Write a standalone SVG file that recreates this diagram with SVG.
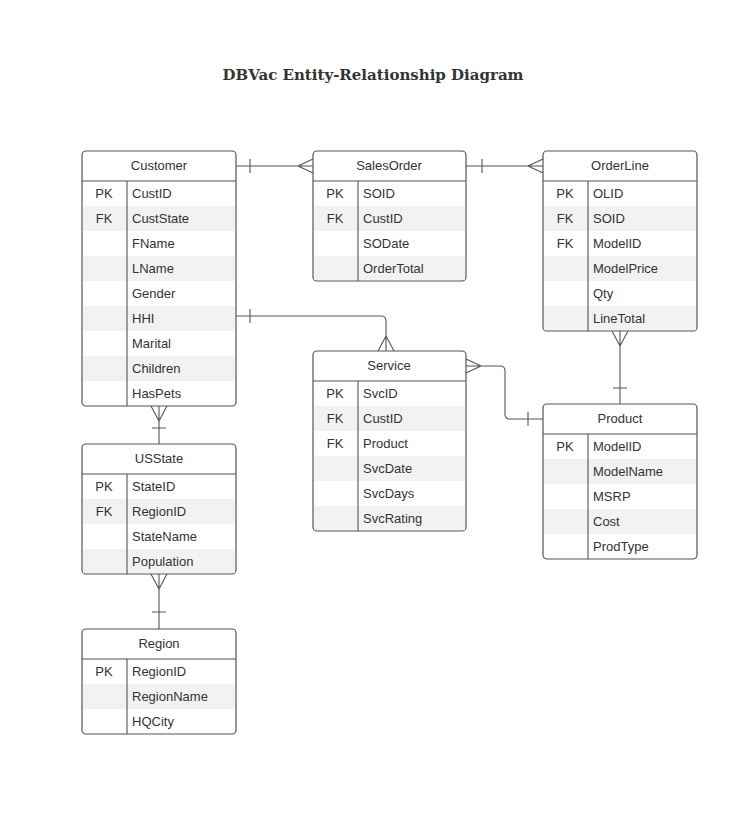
<svg xmlns="http://www.w3.org/2000/svg" width="746" height="834" viewBox="0 0 746 834">
<style>
.box{fill:#fff;stroke:#555;stroke-width:1.2}
.ln{stroke:#555;stroke-width:1.1;fill:none}
.sh{fill:#f2f2f2}
text{font-family:"Liberation Sans",Arial,sans-serif;font-size:13px;fill:#333}
.h{text-anchor:middle}
.k{text-anchor:middle}
</style>
<rect width="746" height="834" fill="#fff"/>
<text x="373" y="80" style="font-family:'DejaVu Serif',serif;font-weight:bold;font-size:15px" text-anchor="middle" fill="#000">DBVac Entity-Relationship Diagram</text>

<g id="Customer">
<rect class="box" x="82" y="151" width="154" height="255" rx="4"/>
<rect class="sh" x="83" y="206" width="152" height="25"/><rect class="sh" x="83" y="256" width="152" height="25"/><rect class="sh" x="83" y="306" width="152" height="25"/><rect class="sh" x="83" y="356" width="152" height="25"/>
<path class="ln" d="M82 181H236M127 181V406"/>
<text class="h" x="159" y="170">Customer</text>
<text class="k" x="104" y="198">PK</text><text x="132" y="198">CustID</text>
<text class="k" x="104" y="223">FK</text><text x="132" y="223">CustState</text>
<text x="132" y="248">FName</text><text x="132" y="273">LName</text><text x="132" y="298">Gender</text>
<text x="132" y="323">HHI</text><text x="132" y="348">Marital</text><text x="132" y="373">Children</text><text x="132" y="398">HasPets</text>
</g>

<g id="SalesOrder">
<rect class="box" x="313" y="151" width="153" height="130" rx="4"/>
<rect class="sh" x="314" y="206" width="151" height="25"/><rect class="sh" x="314" y="256" width="151" height="24"/>
<path class="ln" d="M313 181H466M358 181V281"/>
<text class="h" x="389" y="170">SalesOrder</text>
<text class="k" x="335" y="198">PK</text><text x="363" y="198">SOID</text>
<text class="k" x="335" y="223">FK</text><text x="363" y="223">CustID</text>
<text x="363" y="248">SODate</text><text x="363" y="273">OrderTotal</text>
</g>

<g id="OrderLine">
<rect class="box" x="543" y="151" width="154" height="180" rx="4"/>
<rect class="sh" x="544" y="206" width="152" height="25"/><rect class="sh" x="544" y="256" width="152" height="25"/><rect class="sh" x="544" y="306" width="152" height="24"/>
<path class="ln" d="M543 181H697M588 181V331"/>
<text class="h" x="620" y="170">OrderLine</text>
<text class="k" x="565" y="198">PK</text><text x="593" y="198">OLID</text>
<text class="k" x="565" y="223">FK</text><text x="593" y="223">SOID</text>
<text class="k" x="565" y="248">FK</text><text x="593" y="248">ModelID</text>
<text x="593" y="273">ModelPrice</text><text x="593" y="298">Qty</text><text x="593" y="323">LineTotal</text>
</g>

<g id="Service">
<rect class="box" x="313" y="351" width="153" height="180" rx="4"/>
<rect class="sh" x="314" y="406" width="151" height="25"/><rect class="sh" x="314" y="456" width="151" height="25"/><rect class="sh" x="314" y="506" width="151" height="24"/>
<path class="ln" d="M313 381H466M358 381V531"/>
<text class="h" x="389" y="370">Service</text>
<text class="k" x="335" y="398">PK</text><text x="363" y="398">SvcID</text>
<text class="k" x="335" y="423">FK</text><text x="363" y="423">CustID</text>
<text class="k" x="335" y="448">FK</text><text x="363" y="448">Product</text>
<text x="363" y="473">SvcDate</text><text x="363" y="498">SvcDays</text><text x="363" y="523">SvcRating</text>
</g>

<g id="Product">
<rect class="box" x="543" y="404" width="154" height="155" rx="4"/>
<rect class="sh" x="544" y="459" width="152" height="25"/><rect class="sh" x="544" y="509" width="152" height="25"/>
<path class="ln" d="M543 434H697M588 434V559"/>
<text class="h" x="620" y="423">Product</text>
<text class="k" x="565" y="451">PK</text><text x="593" y="451">ModelID</text>
<text x="593" y="476">ModelName</text><text x="593" y="501">MSRP</text><text x="593" y="526">Cost</text><text x="593" y="551">ProdType</text>
</g>

<g id="USState">
<rect class="box" x="82" y="444" width="154" height="130" rx="4"/>
<rect class="sh" x="83" y="499" width="152" height="25"/><rect class="sh" x="83" y="549" width="152" height="24"/>
<path class="ln" d="M82 474H236M127 474V574"/>
<text class="h" x="159" y="463">USState</text>
<text class="k" x="104" y="491">PK</text><text x="132" y="491">StateID</text>
<text class="k" x="104" y="516">FK</text><text x="132" y="516">RegionID</text>
<text x="132" y="541">StateName</text><text x="132" y="566">Population</text>
</g>

<g id="Region">
<rect class="box" x="82" y="629" width="154" height="105" rx="4"/>
<rect class="sh" x="83" y="684" width="152" height="25"/>
<path class="ln" d="M82 659H236M127 659V734"/>
<text class="h" x="159" y="648">Region</text>
<text class="k" x="104" y="676">PK</text><text x="132" y="676">RegionID</text>
<text x="132" y="701">RegionName</text><text x="132" y="726">HQCity</text>
</g>

<g id="connectors" class="ln">
<path d="M236 166H313M250 159V173M298 166L313 159M298 166L313 173"/>
<path d="M466 166H543M482 159V173M528 166L543 159M528 166L543 173"/>
<path d="M236 316H381Q386 316 386 321V351M250 309V323M386 336L378 351M386 336L394 351"/>
<path d="M466 366H500Q505 366 505 371V414Q505 419 510 419H543M528 412V426M481 366L466 359M481 366L466 373"/>
<path d="M620 331V404M613 388H627M620 346L612 331M620 346L628 331"/>
<path d="M159 406V444M152 428H166M159 421L151 406M159 421L167 406"/>
<path d="M159 574V629M152 612H166M159 589L151 574M159 589L167 574"/>
</g>
</svg>
